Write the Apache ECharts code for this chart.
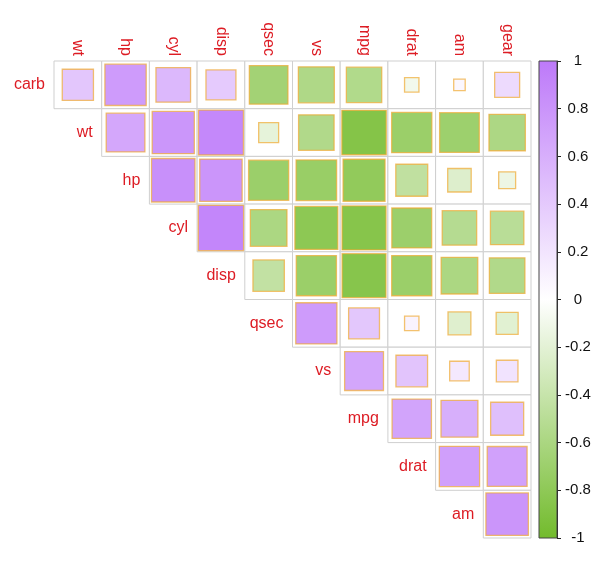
<!DOCTYPE html>
<html>
<head>
<meta charset="utf-8">
<script src="https://cdn.jsdelivr.net/npm/echarts@6/dist/echarts.min.js"></script>
<style>html,body{margin:0;padding:0;background:#fff;}#c{width:600px;height:563px;}</style>
</head>
<body>
<div id="c"></div>
<script>
var rowLabels = ['carb','wt','hp','cyl','disp','qsec','vs','mpg','drat','am'];
var colLabels = ['wt','hp','cyl','disp','qsec','vs','mpg','drat','am','gear'];
// each row lists values for columns starting at the row's own index
var carbRow = [0.428, 0.750, 0.527, 0.395, -0.656, -0.570, -0.551, -0.091, 0.058, 0.274];
var wtRow   = [0.659, 0.782, 0.888, -0.175, -0.555, -0.868, -0.712, -0.692, -0.583];
var hpRow   = [0.832, 0.791, -0.708, -0.723, -0.776, -0.449, -0.243, -0.126];
var cylRow  = [0.902, -0.591, -0.811, -0.852, -0.700, -0.523, -0.493];
var dispRow = [-0.434, -0.710, -0.848, -0.710, -0.591, -0.556];
var qsecRow = [0.745, 0.419, 0.091, -0.230, -0.213];
var vsRow   = [0.664, 0.440, 0.168, 0.206];
var mpgRow  = [0.681, 0.600, 0.480];
var dratRow = [0.713, 0.700];
var amRow   = [0.794];
var legendTicks = [-1, -0.8, -0.6, -0.4, -0.2, 0, 0.2, 0.4, 0.6, 0.8, 1];

var rows = [carbRow, wtRow, hpRow, cylRow, dispRow, qsecRow, vsRow, mpgRow, dratRow, amRow];
var cellData = [];
rows.forEach(function (r, i) {
  r.forEach(function (v, k) { cellData.push([i + k, i, v]); });
});
var labelData = rowLabels.map(function (l, i) { return [i, i, l]; });

var GREEN = '#72BB2C', PURPLE = '#BD79F9';
var RED = '#DD1C24';
var FONT = 'Liberation Sans, Arial, sans-serif';

var chart = echarts.init(document.getElementById('c'));
chart.setOption({
  animation: false,
  grid: [
    {left: 54, top: 61, width: 477, height: 477},
    {left: 539, top: 61, width: 18, height: 477}
  ],
  xAxis: [
    {type: 'category', data: colLabels, position: 'top', gridIndex: 0,
     axisLine: {show: false}, axisTick: {show: false}, splitLine: {show: false},
     axisLabel: {rotate: 90, margin: 5, color: RED, fontSize: 16, fontFamily: FONT, interval: 0}},
    {type: 'category', data: ['bar'], gridIndex: 1, show: false}
  ],
  yAxis: [
    {type: 'category', data: rowLabels, inverse: true, gridIndex: 0, show: false},
    {type: 'value', gridIndex: 1, min: -1, max: 1, interval: 0.2, position: 'right',
     axisLine: {show: true, lineStyle: {color: '#222', width: 1}},
     axisTick: {show: true, length: 4, lineStyle: {color: '#222'}},
     splitLine: {show: false},
     axisLabel: {margin: 21, align: 'center', color: '#111', fontSize: 15, fontFamily: FONT,
       formatter: function (v) { return String(Number(v.toFixed(1))); }}}
  ],
  visualMap: {
    type: 'continuous', show: false, min: -1, max: 1, dimension: 2, seriesIndex: 0,
    inRange: {color: [GREEN, '#FFFFFF', PURPLE]}
  },
  series: [
    {
      type: 'custom', xAxisIndex: 0, yAxisIndex: 0, data: cellData,
      renderItem: function (params, api) {
        var c = api.coord([api.value(0), api.value(1)]);
        var s = api.size([1, 1]);
        var v = api.value(2);
        var side = Math.sqrt(Math.abs(v)) * s[0];
        return {type: 'group', children: [
          {type: 'rect', shape: {x: c[0] - s[0] / 2, y: c[1] - s[1] / 2, width: s[0], height: s[1]},
           style: {fill: '#fff', stroke: '#CFCFCF', lineWidth: 1}},
          {type: 'rect', shape: {x: c[0] - side / 2, y: c[1] - side / 2, width: side, height: side},
           style: {fill: api.visual('color'), stroke: 'rgba(240,170,50,0.7)', lineWidth: 1.3}}
        ]};
      }
    },
    {
      type: 'custom', xAxisIndex: 0, yAxisIndex: 0, data: labelData, silent: true,
      renderItem: function (params, api) {
        var c = api.coord([api.value(0), api.value(1)]);
        var s = api.size([1, 1]);
        return {type: 'text', style: {
          text: labelData[params.dataIndex][2], x: c[0] - s[0] / 2 - 9, y: c[1],
          align: 'right', verticalAlign: 'middle', fill: RED, fontSize: 16, fontFamily: FONT}};
      }
    },
    {
      type: 'custom', xAxisIndex: 1, yAxisIndex: 1, data: [[0, 1]], silent: true,
      renderItem: function (params, api) {
        var top = api.coord([0, 1]);
        var bot = api.coord([0, -1]);
        var w = api.size([1, 0])[0];
        return {type: 'rect', shape: {x: top[0] - w / 2, y: top[1], width: w, height: bot[1] - top[1]},
          style: {stroke: '#444', lineWidth: 1, fill: new echarts.graphic.LinearGradient(0, 0, 0, 1, [
            {offset: 0, color: PURPLE}, {offset: 0.5, color: '#FFFFFF'}, {offset: 1, color: GREEN}])}};
      }
    }
  ]
});
</script>
</body>
</html>
